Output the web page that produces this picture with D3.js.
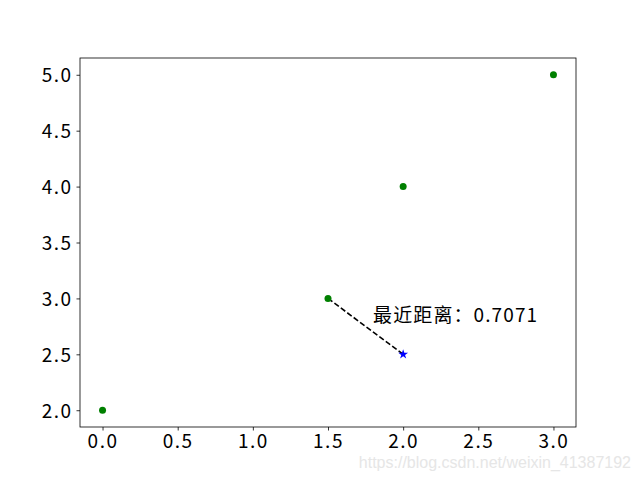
<!DOCTYPE html>
<html><head><meta charset="utf-8">
<script src="https://cdn.jsdelivr.net/npm/d3@7"></script>
<style>body{margin:0;background:#fff}svg{display:block}</style>
</head><body>
<svg id="c" width="640" height="480"></svg>
<script>
const pointsX = [0, 1.5, 2, 3];
const pointsY = [2, 3, 4, 5];
const queryPoint = [2, 2.5];
const nearestPoint = [1.5, 3];
const labelText = "最近距离：0.7071";
const labelPos = [1.8, 2.8];
const xTicks = [0, 0.5, 1.0, 1.5, 2.0, 2.5, 3.0];
const yTicks = [2.0, 2.5, 3.0, 3.5, 4.0, 4.5, 5.0];
const watermark = "https://blog.csdn.net/weixin_41387192";

const svg = d3.select("#c");
const L = 80, R = 576, T = 58, B = 427;
const x = d3.scaleLinear().domain([-0.15, 3.15]).range([L, R]);
const y = d3.scaleLinear().domain([1.85, 5.15]).range([B, T]);
const font = "'Noto Sans CJK SC', sans-serif";

const xAxis = svg.append("g").attr("transform", `translate(0,${B})`)
  .call(d3.axisBottom(x).tickValues(xTicks).tickFormat(d3.format(".1f")).tickSizeOuter(0).tickSizeInner(3.5).tickPadding(4));
const yAxis = svg.append("g").attr("transform", `translate(${L},0)`)
  .call(d3.axisLeft(y).tickValues(yTicks).tickFormat(d3.format(".1f")).tickSizeOuter(0).tickSizeInner(3.5).tickPadding(4));
[xAxis, yAxis].forEach(g => {
  g.select(".domain").remove();
  g.selectAll("line").attr("stroke", "#000").attr("stroke-width", 0.8);
  g.selectAll("text").attr("font-family", font).attr("font-size", 19).attr("fill", "#000").attr("letter-spacing", 1.5);
});
yAxis.selectAll("text").attr("dy", "0.36em");

svg.append("rect").attr("x", L).attr("y", T).attr("width", R - L).attr("height", B - T)
  .attr("fill", "none").attr("stroke", "#000").attr("stroke-width", 0.8);

svg.append("line")
  .attr("x1", x(nearestPoint[0])).attr("y1", y(nearestPoint[1]))
  .attr("x2", x(queryPoint[0])).attr("y2", y(queryPoint[1]))
  .attr("stroke", "#000").attr("stroke-width", 1.6).attr("stroke-dasharray", "5.5,2.5");

svg.selectAll("circle.pt").data(pointsX.map((d, i) => [d, pointsY[i]])).enter()
  .append("circle").attr("class", "pt")
  .attr("cx", d => x(d[0])).attr("cy", d => y(d[1])).attr("r", 3.5).attr("fill", "#008000");

svg.append("path")
  .attr("d", d3.symbol().type(d3.symbolStar).size(30)())
  .attr("transform", `translate(${x(queryPoint[0])},${y(queryPoint[1])})`)
  .attr("fill", "#0000ff");

svg.append("text").attr("x", x(labelPos[0])).attr("y", y(labelPos[1]) + 1)
  .attr("font-family", font).attr("font-size", 19).attr("letter-spacing", 1.1).attr("fill", "#000")
  .text(labelText);

svg.append("text").attr("x", 631).attr("y", 468).attr("text-anchor", "end")
  .attr("font-family", "'Liberation Sans', Arial, sans-serif").attr("font-size", 16).attr("fill", "#e6e6e6")
  .text(watermark);
</script>
</body></html>
